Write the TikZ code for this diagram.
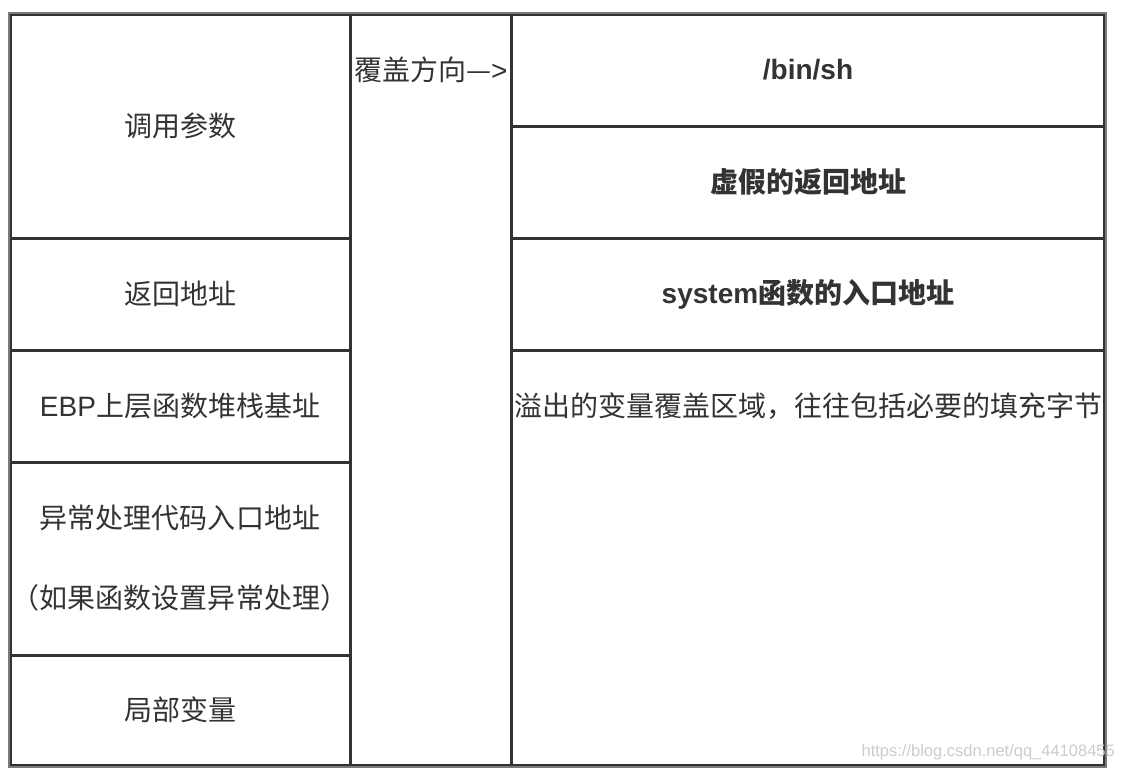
\documentclass[tikz,border=0pt]{standalone}
\usepackage{fontspec}
\setmainfont{Liberation Sans}
\newfontfamily\cjk{Noto Sans CJK SC}
\definecolor{txt}{HTML}{333333}
\definecolor{bord}{HTML}{333333}
\definecolor{outer}{HTML}{7A7A7A}
\newcommand{\cellbox}[5]{% name, x1, y1, x2, y2
  \node[cell, minimum width={(#4-#2)*1bp}, minimum height={(#5-#3)*1bp}] (#1) at ({(#2+#4)/2},{(#3+#5)/2}) {};}
\begin{document}
\begin{tikzpicture}[x=1bp,y=-1bp,
  cell/.style={draw=bord, line width=1.6bp, inner sep=0pt, outer sep=0pt},
  lbl/.style={text=txt, font=\fontsize{28bp}{34bp}\selectfont, inner sep=0pt},
  blbl/.style={lbl, font=\fontsize{28bp}{34bp}\selectfont\bfseries},
  wmark/.style={text=black!20, font=\fontsize{16.5bp}{20bp}\selectfont, inner sep=0pt}]
\useasboundingbox (0,0) rectangle (1124,776);
\fill[white] (0,0) rectangle (1124,776);
% outer table border
\node[draw=outer, line width=1.6bp, inner sep=0pt, minimum width=1096.6bp, minimum height=753.6bp] (tab) at (557.5,390) {};
% left column cells
\cellbox{c1}{10.8}{14.8}{349.6}{237.6}
\cellbox{c2}{10.8}{239.2}{349.6}{349.6}
\cellbox{c3}{10.8}{351.2}{349.6}{461.6}
\cellbox{c4}{10.8}{463.2}{349.6}{654.6}
\cellbox{c5}{10.8}{656.2}{349.6}{765.2}
% middle column
\cellbox{mid}{351.2}{14.8}{510.6}{765.2}
% right column
\cellbox{d1}{512.2}{14.8}{1104.2}{125.6}
\cellbox{d2}{512.2}{127.2}{1104.2}{237.6}
\cellbox{d3}{512.2}{239.2}{1104.2}{349.6}
\cellbox{d4}{512.2}{351.2}{1104.2}{765.2}
% left texts
\node[lbl] (t1) at (180,126) {\cjk 调用参数};
\node[lbl] (t2) at (180,294) {\cjk 返回地址};
\node[lbl] (t3) at (180,406) {EBP\cjk 上层函数堆栈基址};
\node[lbl] (t4) at (180,518) {\cjk 异常处理代码入口地址};
\node[lbl] (t5) at (180,598) {\cjk （如果函数设置异常处理）};
\node[lbl] (t6) at (180,710) {\cjk 局部变量};
% middle text
\node[lbl, anchor=west] (m1) at (354,70) {\cjk 覆盖方向—{\rmfamily >}};
% right texts
\node[blbl] (r1) at (808,70) {/bin/sh};
\node[blbl] (r2) at (808,182) {\cjk\bfseries 虚假的返回地址};
\node[blbl] (r3) at (808,294) {system\cjk\bfseries 函数的入口地址};
\node[lbl, anchor=west] (r4) at (514,406) {\cjk 溢出的变量覆盖区域，往往包括必要的填充字节};
% watermark
\node[wmark, anchor=east] (wm) at (1115,752) {https://blog.csdn.net/qq\_44108455};
\end{tikzpicture}
\end{document}
